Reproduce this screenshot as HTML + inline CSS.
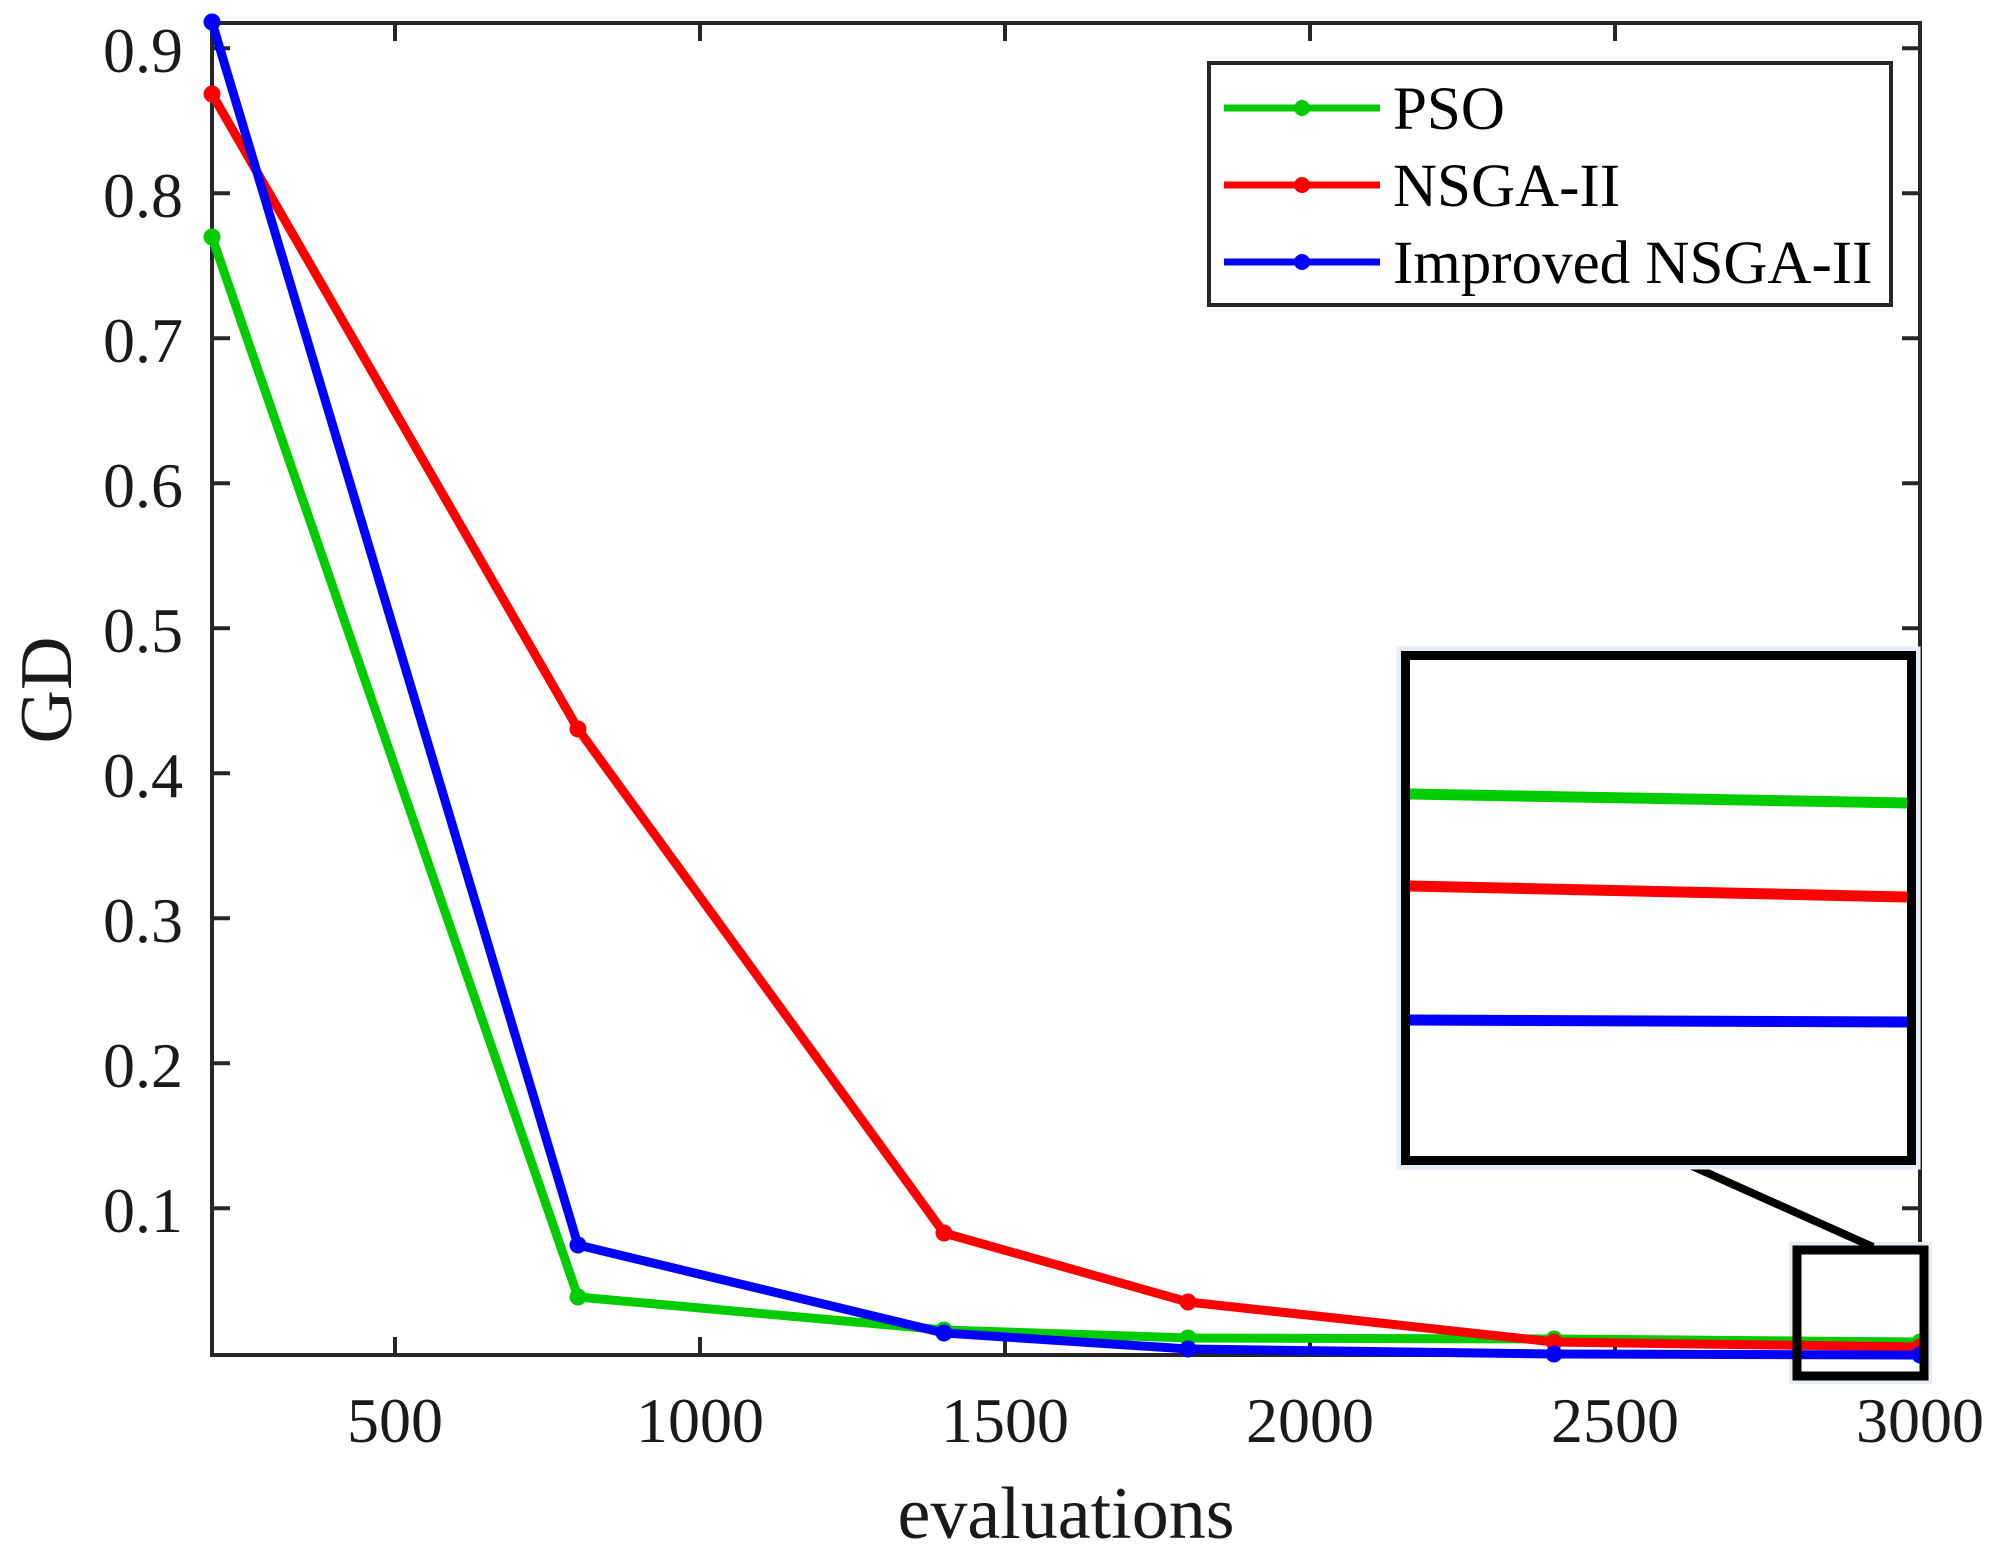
<!DOCTYPE html>
<html>
<head>
<meta charset="utf-8">
<style>
  html, body { margin: 0; padding: 0; background: #ffffff; }
  svg { display: block; }
  text { font-family: "Liberation Serif", "Times New Roman", serif; fill: #1a1a1a; }
</style>
</head>
<body>
<svg width="1998" height="1567" viewBox="0 0 1998 1567" xmlns="http://www.w3.org/2000/svg">
  <rect x="0" y="0" width="1998" height="1567" fill="#ffffff"/>

  <!-- Axes frame -->
  <g stroke="#262626" stroke-width="4" fill="none">
    <rect x="212" y="23" width="1708" height="1332"/>
  </g>

  <!-- Y ticks (left & right) -->
  <g stroke="#262626" stroke-width="4">
    <line x1="212" y1="1208.3" x2="230" y2="1208.3"/>
    <line x1="212" y1="1063.3" x2="230" y2="1063.3"/>
    <line x1="212" y1="918.3" x2="230" y2="918.3"/>
    <line x1="212" y1="773.3" x2="230" y2="773.3"/>
    <line x1="212" y1="628.3" x2="230" y2="628.3"/>
    <line x1="212" y1="483.3" x2="230" y2="483.3"/>
    <line x1="212" y1="338.3" x2="230" y2="338.3"/>
    <line x1="212" y1="193.3" x2="230" y2="193.3"/>
    <line x1="212" y1="48.3" x2="230" y2="48.3"/>

    <line x1="1902" y1="1208.3" x2="1920" y2="1208.3"/>
    <line x1="1902" y1="1063.3" x2="1920" y2="1063.3"/>
    <line x1="1902" y1="918.3" x2="1920" y2="918.3"/>
    <line x1="1902" y1="773.3" x2="1920" y2="773.3"/>
    <line x1="1902" y1="628.3" x2="1920" y2="628.3"/>
    <line x1="1902" y1="483.3" x2="1920" y2="483.3"/>
    <line x1="1902" y1="338.3" x2="1920" y2="338.3"/>
    <line x1="1902" y1="193.3" x2="1920" y2="193.3"/>
    <line x1="1902" y1="48.3" x2="1920" y2="48.3"/>

    <!-- X ticks bottom & top -->
    <line x1="395" y1="1355" x2="395" y2="1337"/>
    <line x1="700" y1="1355" x2="700" y2="1337"/>
    <line x1="1005" y1="1355" x2="1005" y2="1337"/>
    <line x1="1310" y1="1355" x2="1310" y2="1337"/>
    <line x1="1615" y1="1355" x2="1615" y2="1337"/>

    <line x1="395" y1="23" x2="395" y2="41"/>
    <line x1="700" y1="23" x2="700" y2="41"/>
    <line x1="1005" y1="23" x2="1005" y2="41"/>
    <line x1="1310" y1="23" x2="1310" y2="41"/>
    <line x1="1615" y1="23" x2="1615" y2="41"/>
  </g>

  <!-- Y tick labels -->
  <g font-size="64" text-anchor="end">
    <text x="183" y="1232">0.1</text>
    <text x="183" y="1087">0.2</text>
    <text x="183" y="942">0.3</text>
    <text x="183" y="797">0.4</text>
    <text x="183" y="652">0.5</text>
    <text x="183" y="507">0.6</text>
    <text x="183" y="362">0.7</text>
    <text x="183" y="217">0.8</text>
    <text x="183" y="72">0.9</text>
  </g>

  <!-- X tick labels -->
  <g font-size="64" text-anchor="middle">
    <text x="395" y="1442">500</text>
    <text x="700" y="1442">1000</text>
    <text x="1005" y="1442">1500</text>
    <text x="1310" y="1442">2000</text>
    <text x="1615" y="1442">2500</text>
    <text x="1920" y="1442">3000</text>
  </g>

  <!-- Axis labels -->
  <text x="1066" y="1538" font-size="74" text-anchor="middle">evaluations</text>
  <text transform="translate(71,690) rotate(-90)" x="0" y="0" font-size="74" text-anchor="middle">GD</text>

  <!-- Small zoom box: glow + white fill (covers axis) -->
  <rect x="1797" y="1250" width="127" height="126" fill="none" stroke="#e4eef8" stroke-width="16"/>
  <rect x="1797" y="1250" width="127" height="126" fill="#ffffff"/>

  <!-- Data series -->
  <g fill="none" stroke-width="9" stroke-linejoin="round">
    <polyline stroke="#00cc00" points="212,237 578,1297 944,1330 1188,1338 1554,1339 1920,1342"/>
  </g>
  <g fill="#00cc00">
    <circle cx="212" cy="237" r="8.5"/>
    <circle cx="578" cy="1297" r="8.5"/>
    <circle cx="944" cy="1330" r="8.5"/>
    <circle cx="1188" cy="1338" r="8.5"/>
    <circle cx="1554" cy="1339" r="8.5"/>
    <circle cx="1920" cy="1342" r="8.5"/>
  </g>

  <g fill="none" stroke-width="9" stroke-linejoin="round">
    <polyline stroke="#ff0000" points="212,94 578,729 944,1233 1188,1302 1554,1342 1920,1347"/>
  </g>
  <g fill="#ff0000">
    <circle cx="212" cy="94" r="8.5"/>
    <circle cx="578" cy="729" r="8.5"/>
    <circle cx="944" cy="1233" r="8.5"/>
    <circle cx="1188" cy="1302" r="8.5"/>
    <circle cx="1554" cy="1342" r="8.5"/>
    <circle cx="1920" cy="1347" r="8.5"/>
  </g>

  <g fill="none" stroke-width="9" stroke-linejoin="round">
    <polyline stroke="#0000ff" points="212,22 578,1245 944,1333 1188,1349 1554,1354 1920,1355"/>
  </g>
  <g fill="#0000ff">
    <circle cx="212" cy="22" r="8.5"/>
    <circle cx="578" cy="1245" r="8.5"/>
    <circle cx="944" cy="1333" r="8.5"/>
    <circle cx="1188" cy="1349" r="8.5"/>
    <circle cx="1554" cy="1354" r="8.5"/>
    <circle cx="1920" cy="1355" r="8.5"/>
  </g>

  <!-- Small zoom box border -->
  <rect x="1797" y="1250" width="127" height="126" fill="none" stroke="#000000" stroke-width="9"/>

  <!-- Connector line -->
  <line x1="1683" y1="1162" x2="1873" y2="1247" stroke="#000000" stroke-width="8"/>

  <!-- Inset box -->
  <rect x="1405.5" y="655.5" width="506" height="505" fill="none" stroke="#e4eef8" stroke-width="18"/>
  <rect x="1405.5" y="655.5" width="506" height="505" fill="#ffffff"/>
  <g stroke-width="11" fill="none">
    <line x1="1410" y1="794" x2="1907" y2="803" stroke="#00cc00"/>
    <line x1="1410" y1="886" x2="1907" y2="897" stroke="#ff0000"/>
    <line x1="1410" y1="1020" x2="1907" y2="1022" stroke="#0000ff"/>
  </g>
  <rect x="1405.5" y="655.5" width="506" height="505" fill="none" stroke="#000000" stroke-width="9"/>

  <!-- Legend -->
  <rect x="1209" y="63" width="682" height="242" fill="#ffffff" stroke="#262626" stroke-width="4"/>
  <g stroke-width="7">
    <line x1="1224" y1="108" x2="1380" y2="108" stroke="#00cc00"/>
    <line x1="1224" y1="185" x2="1380" y2="185" stroke="#ff0000"/>
    <line x1="1224" y1="262" x2="1380" y2="262" stroke="#0000ff"/>
  </g>
  <circle cx="1302" cy="108" r="8" fill="#00cc00"/>
  <circle cx="1302" cy="185" r="8" fill="#ff0000"/>
  <circle cx="1302" cy="262" r="8" fill="#0000ff"/>
  <g font-size="61" style="fill:#000000">
    <text x="1393" y="129" style="fill:#000000">PSO</text>
    <text x="1393" y="206" style="fill:#000000">NSGA-II</text>
    <text x="1393" y="283" style="fill:#000000">Improved NSGA-II</text>
  </g>
</svg>
</body>
</html>
